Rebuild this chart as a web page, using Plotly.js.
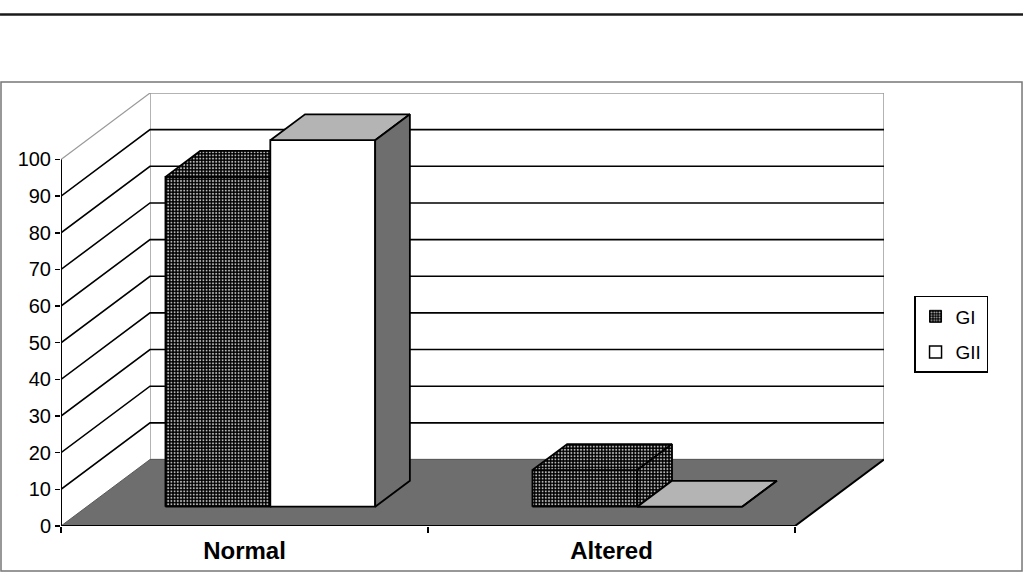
<!DOCTYPE html>
<html>
<head>
<meta charset="utf-8">
<script src="https://cdn.plot.ly/plotly-3.0.1.min.js"></script>
<style>html,body{margin:0;padding:0;background:#fff;}#chart{width:1023px;height:572px;}</style>
</head>
<body>
<div id="chart"></div>
<script>
// ---- data ----
const categories = ['Normal', 'Altered'];
const seriesNames = ['GI', 'GII'];
const giValues = [90, 10];
const giiValues = [100, 0];
const yTickValues = [0, 10, 20, 30, 40, 50, 60, 70, 80, 90, 100];

// ---- oblique projection (depth vector in axis units) ----
const KX = 0.2425, KY = 18.14;
const VMAX = 100;
const NCAT = categories.length;
function P(u, v, d) { return [u + KX * d, v + KY * d]; }

const traces = [];
function poly(points, fill, lineColor, lineWidth, pattern) {
  const xs = points.map(p => p[0]); const ys = points.map(p => p[1]);
  xs.push(points[0][0]); ys.push(points[0][1]);
  const t = {type: 'scatter', mode: 'lines', x: xs, y: ys, fill: 'toself', fillcolor: fill,
    line: {color: lineColor, width: lineWidth}, hoverinfo: 'skip', showlegend: false, cliponaxis: false};
  if (pattern) t.fillpattern = pattern;
  traces.push(t);
}
function lines(segs, color, width) {
  const xs = [], ys = [];
  segs.forEach(s => { s.forEach(p => { xs.push(p[0]); ys.push(p[1]); }); xs.push(null); ys.push(null); });
  traces.push({type: 'scatter', mode: 'lines', x: xs, y: ys, line: {color: color, width: width},
    hoverinfo: 'skip', showlegend: false, cliponaxis: false});
}

// walls
poly([P(0, 0, 1), P(NCAT, 0, 1), P(NCAT, VMAX, 1), P(0, VMAX, 1)], '#ffffff', '#9a9a9a', 1.5);
poly([P(0, 0, 0), P(0, 0, 1), P(0, VMAX, 1), P(0, VMAX, 0)], '#ffffff', 'rgba(0,0,0,0)', 0);
// floor
poly([P(0, 0, 0), P(NCAT, 0, 0), P(NCAT, 0, 1), P(0, 0, 1)], '#6e6e6e', '#5a5a5a', 1);
// gridlines
const gridSegs = [];
yTickValues.forEach(v => { if (v > 0 && v < VMAX) gridSegs.push([P(0, v, 0), P(0, v, 1), P(NCAT, v, 1)]); });
lines(gridSegs, '#000000', 1.6);
lines([[P(0, VMAX, 0), P(0, VMAX, 1)]], '#9a9a9a', 1.2);
// front axis lines and floor right edge
lines([[P(0, VMAX, 0), P(0, 0, 0), P(NCAT, 0, 0)], [P(NCAT, 0, 0), P(NCAT, 0, 1)]], '#000000', 2);

// bars
const W = 1 / 3.5, GAP = 0.75 / 3.5, D0 = 0.29, D1 = 0.68;
const giPattern = {shape: '.', bgcolor: '#000000', fgcolor: '#b8b8b8', size: 3.2, solidity: 0.32};
const seriesValues = [giValues, giiValues];
const styles = [
  {front: '#000000', top: '#000000', side: '#000000', pattern: giPattern},
  {front: '#ffffff', top: '#b4b4b4', side: '#6e6e6e', pattern: null}
];
for (let i = 0; i < NCAT; i++) {
  for (let j = 0; j < seriesValues.length; j++) {
    const val = seriesValues[j][i];
    const u0 = i + GAP + j * W, u1 = u0 + W;
    const st = styles[j];
    poly([P(u0, 0, D0), P(u1, 0, D0), P(u1, val, D0), P(u0, val, D0)], st.front, '#000000', 1.8, st.pattern);
    poly([P(u0, val, D0), P(u1, val, D0), P(u1, val, D1), P(u0, val, D1)], st.top, '#000000', 1.8, st.pattern);
    poly([P(u1, 0, D0), P(u1, 0, D1), P(u1, val, D1), P(u1, val, D0)], st.side, '#000000', 1.8, st.pattern);
  }
}

// legend entries
traces.push({type: 'bar', name: seriesNames[0], legendgroup: 'g1', x: [null], y: [null],
  marker: {color: '#000000', line: {color: '#000000', width: 1}, pattern: {shape: '.', bgcolor: '#000000', fgcolor: '#b8b8b8', size: 3.2, solidity: 0.32}}});
traces.push({type: 'bar', name: seriesNames[1], legendgroup: 'g2', x: [null], y: [null],
  marker: {color: '#ffffff', line: {color: '#000000', width: 1.5}}});

const catCenters = categories.map((c, i) => i + 0.5);

const layout = {
  width: 1023, height: 572,
  margin: {l: 61, r: 139, t: 93, b: 46, pad: 0},
  paper_bgcolor: '#ffffff', plot_bgcolor: '#ffffff',
  font: {family: '"Liberation Sans", Arial, sans-serif', color: '#000000'},
  showlegend: true,
  xaxis: {type: 'linear', range: [0, NCAT + KX], fixedrange: true, showgrid: false, zeroline: false, showline: false,
    tickmode: 'array', tickvals: catCenters, ticktext: categories, ticks: '', ticklabelstandoff: 8,
    tickfont: {size: 24, weight: 'bold', family: '"Liberation Sans", Arial, sans-serif'},
    minor: {tickmode: 'array', tickvals: [0, 1, 2], ticks: 'outside', ticklen: 6, tickwidth: 1.5, tickcolor: '#000000', showgrid: false}},
  yaxis: {type: 'linear', range: [0, VMAX + KY], fixedrange: true, showgrid: false, zeroline: false, showline: false,
    tickmode: 'array', tickvals: yTickValues, ticktext: yTickValues.map(String),
    ticks: 'outside', ticklen: 5, tickwidth: 1.5, tickcolor: '#000000',
    tickfont: {size: 20, family: '"Liberation Sans", Arial, sans-serif'}},
  legend: {x: 1.0365, y: 0.5312, xanchor: 'left', yanchor: 'top', bordercolor: '#000000', borderwidth: 1.5,
    bgcolor: '#ffffff', font: {size: 19}, itemwidth: 30, tracegroupgap: 8, traceorder: 'grouped'},
  shapes: [
    {type: 'line', xref: 'paper', yref: 'paper', x0: -0.0741, x1: 1.1689, y0: 1.1813, y1: 1.1813, line: {color: '#1a1a1a', width: 2.5}},
    {type: 'rect', xref: 'paper', yref: 'paper', x0: -0.0729, x1: 1.1677, y0: -0.1039, y1: 1.0254, line: {color: '#777777', width: 1.5}, layer: 'below'}
  ]
};

Plotly.newPlot('chart', traces, layout, {staticPlot: true, displayModeBar: false});
</script>
</body>
</html>
